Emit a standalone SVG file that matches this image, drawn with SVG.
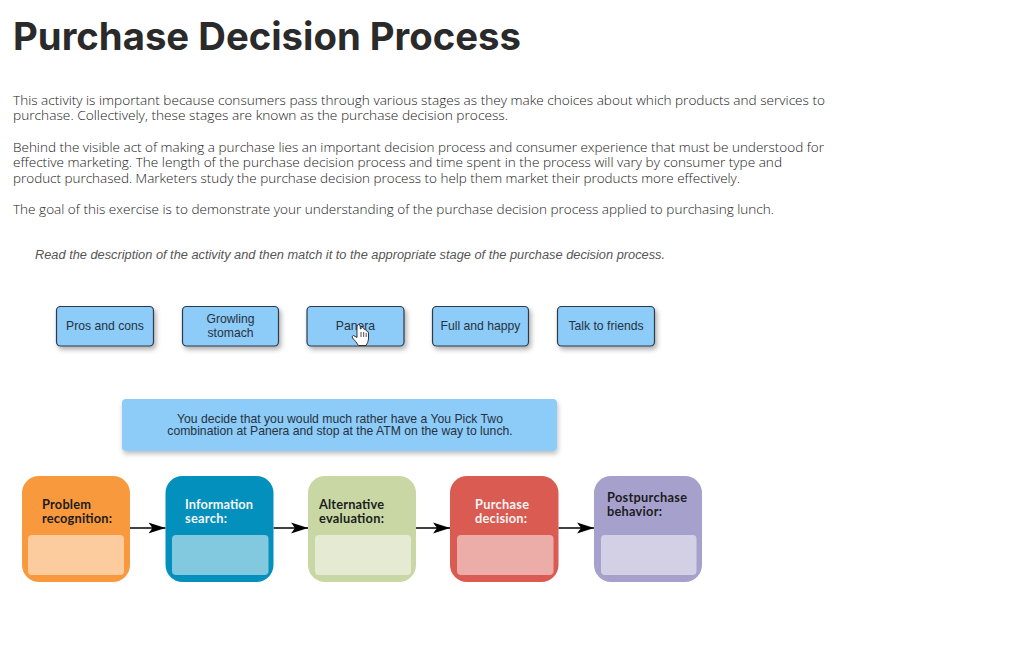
<svg xmlns="http://www.w3.org/2000/svg" width="1024" height="651" viewBox="0 0 1024 651">
<style>
.title{font:700 38px Inter,Lato,sans-serif;fill:#2a2a2a}
.body{font:300 12.500px "Open Sans",Lato,sans-serif;fill:#222}
.inst{font:italic 400 12px "Liberation Sans",Arial,sans-serif;fill:#555}
.btn{fill:#8dcbf8;stroke:#2b3a48;stroke-width:1.2;filter:url(#sh)}
.lbl{font:400 12.200px "Liberation Sans",Arial,sans-serif;fill:#26323d;text-anchor:middle}
.stage{font:700 12.800px Lato,"Open Sans",sans-serif}
.dk{fill:#1c1c1c}.lt{fill:#f4f4f4}
.inner{fill:#fff;fill-opacity:.5}
.con{stroke:#000;stroke-width:1.3;fill:none;marker-end:url(#ah)}
</style>
<defs>
<filter id="sh" x="-15%" y="-25%" width="130%" height="160%"><feDropShadow dx="2" dy="3" stdDeviation="2.600" flood-color="#000" flood-opacity=".32"/></filter>
<filter id="sh2" x="-5%" y="-15%" width="110%" height="140%"><feDropShadow dx="1" dy="3" stdDeviation="2.500" flood-color="#000" flood-opacity=".25"/></filter>
<marker id="ah" markerUnits="userSpaceOnUse" markerWidth="18" markerHeight="12" refX="17" refY="6" orient="auto"><path d="M0 0.500L17 6L0 11.500L4 6Z" fill="#000"/></marker>
</defs>
<text class="title" x="13" y="50" textLength="508" lengthAdjust="spacingAndGlyphs">Purchase Decision Process</text>
<g id="intro">
<text class="body" x="13" y="105" textLength="812" lengthAdjust="spacingAndGlyphs">This activity is important because consumers pass through various stages as they make choices about which products and services to</text>
<text class="body" x="13" y="120" textLength="495" lengthAdjust="spacingAndGlyphs">purchase. Collectively, these stages are known as the purchase decision process.</text>
<text class="body" x="13" y="152" textLength="811" lengthAdjust="spacingAndGlyphs">Behind the visible act of making a purchase lies an important decision process and consumer experience that must be understood for</text>
<text class="body" x="13" y="167" textLength="769" lengthAdjust="spacingAndGlyphs">effective marketing. The length of the purchase decision process and time spent in the process will vary by consumer type and</text>
<text class="body" x="13" y="183" textLength="727" lengthAdjust="spacingAndGlyphs">product purchased. Marketers study the purchase decision process to help them market their products more effectively.</text>
<text class="body" x="13" y="214" textLength="761" lengthAdjust="spacingAndGlyphs">The goal of this exercise is to demonstrate your understanding of the purchase decision process applied to purchasing lunch.</text>
<text class="inst" x="35" y="259" textLength="630" lengthAdjust="spacingAndGlyphs">Read the description of the activity and then match it to the appropriate stage of the purchase decision process.</text>
</g>
<g id="btn-pros"><rect class="btn" x="56.500" y="306.500" width="97" height="39.500" rx="4"/><text class="lbl" x="105" y="330">Pros and cons</text></g>
<g id="btn-growling"><rect class="btn" x="182.500" y="306.500" width="96" height="39.500" rx="4"/><text class="lbl" x="230.500" y="323">Growling</text><text class="lbl" x="230.500" y="336.500">stomach</text></g>
<g id="btn-panera"><rect class="btn" x="307" y="306.500" width="97" height="39.500" rx="4"/><text class="lbl" x="355.500" y="330">Panera</text></g>
<g id="btn-full"><rect class="btn" x="432.500" y="306.500" width="96" height="39.500" rx="4"/><text class="lbl" x="480.500" y="330">Full and happy</text></g>
<g id="btn-talk"><rect class="btn" x="557.500" y="306.500" width="97" height="39.500" rx="4"/><text class="lbl" x="606" y="330">Talk to friends</text></g>
<g id="description"><rect x="122" y="399" width="435" height="52" rx="4" fill="#8dcbf8" filter="url(#sh2)"/>
<text class="lbl" x="340" y="422.500">You decide that you would much rather have a You Pick Two</text>
<text class="lbl" x="340" y="434.500">combination at Panera and stop at the ATM on the way to lunch.</text></g>
<g id="connectors">
<path class="con" d="M130 528H165.500"/><path class="con" d="M273.500 528H308"/><path class="con" d="M416 528H450"/><path class="con" d="M558.500 528H594"/>
</g>
<g id="stage-problem"><rect x="22" y="476" width="108" height="106" rx="17" fill="#f9993d"/><rect class="inner" x="28" y="535" width="96" height="40" rx="4"/><text class="stage dk" x="42" y="509" textLength="49">Problem</text><text class="stage dk" x="42" y="523" textLength="70">recognition:</text></g>
<g id="stage-information"><rect x="165.500" y="476" width="108" height="106" rx="17" fill="#0490bd"/><rect class="inner" x="172" y="535" width="96.500" height="40" rx="4"/><text class="stage lt" x="185" y="509" textLength="68">Information</text><text class="stage lt" x="185" y="523" textLength="42">search:</text></g>
<g id="stage-alternative"><rect x="308" y="476" width="108" height="106" rx="17" fill="#c8d7a4"/><rect class="inner" x="315" y="535" width="96" height="40" rx="4"/><text class="stage dk" x="319" y="509" textLength="65">Alternative</text><text class="stage dk" x="319" y="523" textLength="65">evaluation:</text></g>
<g id="stage-purchase"><rect x="450" y="476" width="108.500" height="106" rx="17" fill="#d95b52"/><rect class="inner" x="457" y="535" width="96.500" height="40" rx="4"/><text class="stage lt" x="475" y="509" textLength="54">Purchase</text><text class="stage lt" x="475" y="523" textLength="52">decision:</text></g>
<g id="stage-postpurchase"><rect x="594" y="476" width="108" height="106" rx="17" fill="#a6a0cd"/><rect class="inner" x="601" y="535" width="95.500" height="40" rx="4"/><text class="stage dk" x="607" y="502" textLength="80">Postpurchase</text><text class="stage dk" x="607" y="516" textLength="55">behavior:</text></g>
<g id="cursor"><path d="M357 327Q357 324.500 358.700 324.500Q360.300 324.500 360.300 327L360.300 329L362.500 327.500Q364 327.500 364.300 329.500Q366 328.500 366.500 331Q368.300 331 368.500 333L368.500 339Q368 343 366 345.500L358.500 345.500Q356 341.500 352.500 338Q351.500 336 353.500 335.500L357 337.500Z" fill="#fff" stroke="#222" stroke-width=".9" stroke-linejoin="round"/><path d="M361 332V337M363.700 332V337M366.200 333V337" stroke="#222" stroke-width=".8" fill="none"/></g>
</svg>
